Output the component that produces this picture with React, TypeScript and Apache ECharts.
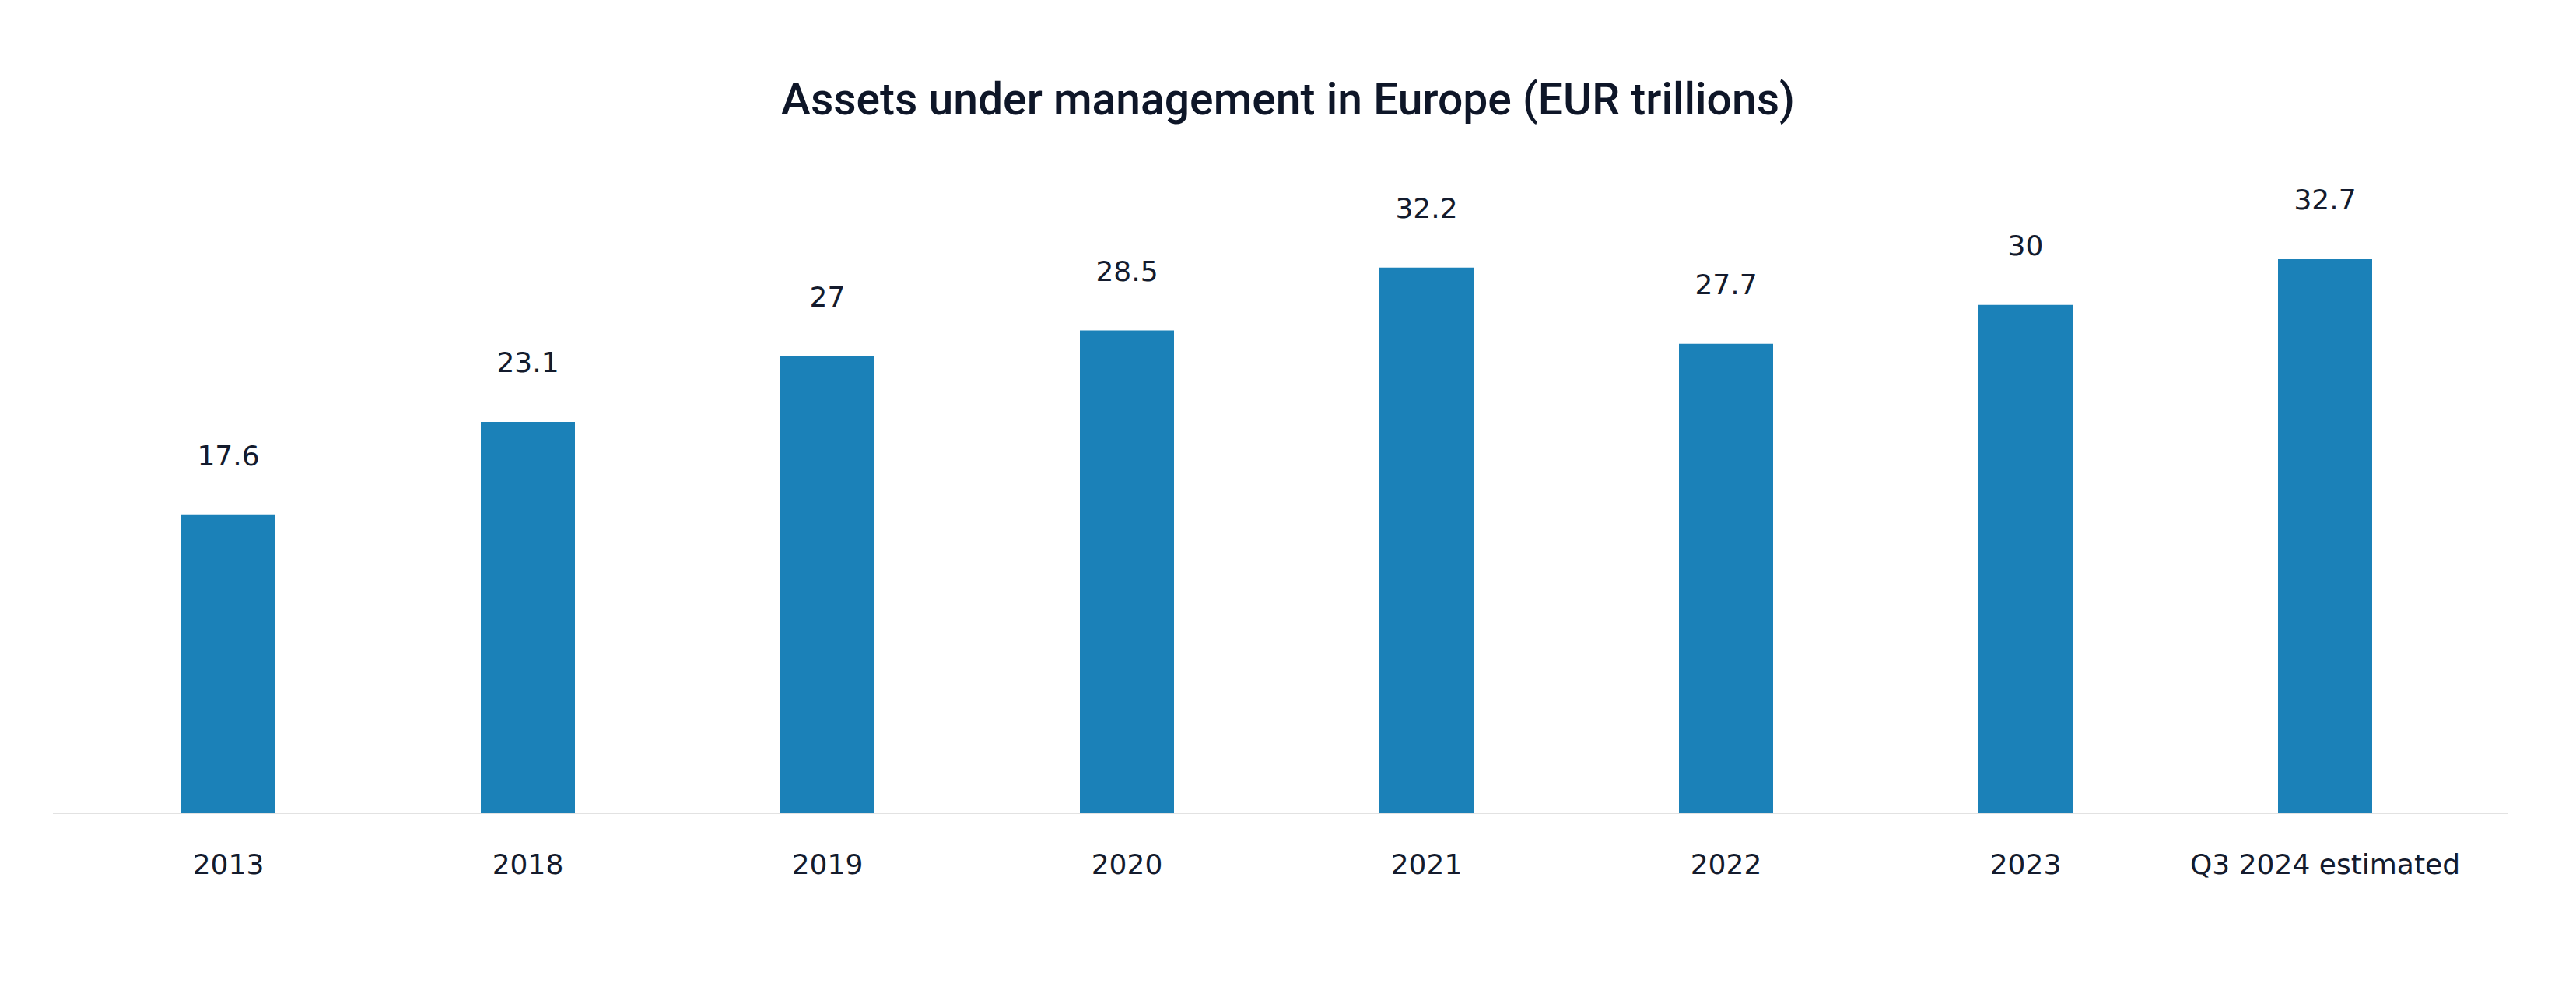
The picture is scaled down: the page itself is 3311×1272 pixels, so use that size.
import React, { useEffect, useRef } from 'react';
import * as echarts from 'echarts';

// Data
const categories = ['2013', '2018', '2019', '2020', '2021', '2022', '2023', 'Q3 2024 estimated'];
const aumValues = [17.6, 23.1, 27, 28.5, 32.2, 27.7, 30, 32.7];

const TITLE = 'Assets under management in Europe (EUR trillions)';

const WIDTH = 3311;
const HEIGHT = 1272;
const GRID_BOTTOM = 227;
const BAR_COLOR = '#1b81b8';
const TEXT_COLOR = '#141b2d';

const App: React.FC = () => {
  const chartRef = useRef<HTMLDivElement>(null);

  useEffect(() => {
    const chart = echarts.init(chartRef.current!, undefined, { renderer: 'svg' });
    const axisY = HEIGHT - GRID_BOTTOM;

    const options = {
      animation: false,
      backgroundColor: '#ffffff',
      title: {
        text: TITLE,
        left: 'center',
        top: 94,
        textStyle: {
          fontFamily: 'Roboto',
          fontSize: 57,
          fontWeight: 500,
          color: '#0e1628',
        },
      },
      grid: {
        left: 101,
        right: 130,
        top: 174,
        bottom: GRID_BOTTOM,
      },
      xAxis: {
        type: 'category',
        data: categories,
        axisLine: { show: false },
        axisTick: { show: false },
        axisLabel: {
          margin: 47,
          fontFamily: 'DejaVu Sans',
          fontSize: 36,
          color: TEXT_COLOR,
          interval: 0,
        },
      },
      yAxis: {
        type: 'value',
        min: 0,
        max: 40,
        show: false,
        splitLine: { show: false },
      },
      // baseline runs a bit past the outer categories, as in the original
      graphic: [
        {
          type: 'line',
          z: 0,
          shape: { x1: 68, y1: axisY, x2: 3223, y2: axisY },
          style: { stroke: '#e2e2e2', lineWidth: 2 },
        },
      ],
      series: [
        {
          type: 'bar',
          data: aumValues,
          barWidth: 121,
          itemStyle: { color: BAR_COLOR },
          label: {
            show: true,
            position: 'top',
            distance: 58,
            fontFamily: 'DejaVu Sans',
            fontSize: 36,
            color: TEXT_COLOR,
          },
          z: 2,
        },
      ],
    };

    chart.setOption(options);

    return () => {
      chart.dispose();
    };
  }, []);

  return (
    <div
      ref={chartRef}
      style={{
        position: 'fixed',
        left: 0,
        top: 0,
        width: WIDTH + 'px',
        height: HEIGHT + 'px',
      }}
    />
  );
};

export default App;
